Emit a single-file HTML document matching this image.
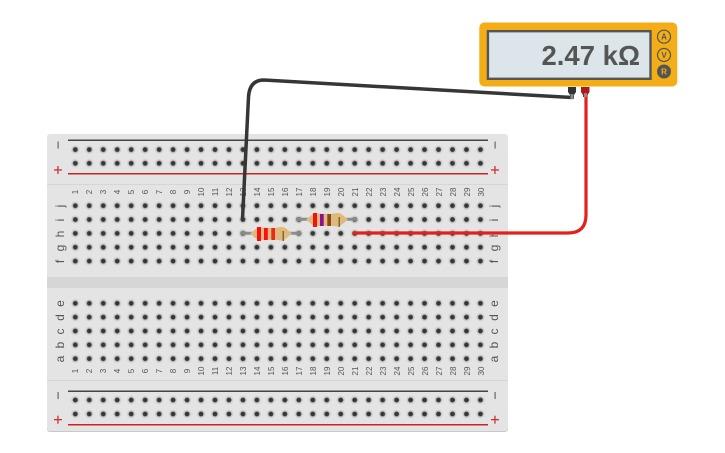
<!DOCTYPE html>
<html><head><meta charset="utf-8"><style>html,body{margin:0;padding:0;background:#fff;width:725px;height:453px;overflow:hidden}svg{display:block}text{font-family:"Liberation Sans",sans-serif}</style></head><body>
<svg width="725" height="453" viewBox="0 0 725 453" xmlns="http://www.w3.org/2000/svg">
<defs>
<radialGradient id="g"><stop offset="0" stop-color="#333"/><stop offset="0.45" stop-color="#3a3a3a"/><stop offset="0.62" stop-color="#c6c6c6"/><stop offset="0.85" stop-color="#d2d2d2"/><stop offset="1" stop-color="#e4e4e4"/></radialGradient>
<pattern id="r1" x="68.3" y="142.6" width="13.97" height="13.7" patternUnits="userSpaceOnUse"><circle cx="7" cy="7" r="4.5" fill="url(#g)"/></pattern>
<pattern id="r2" x="68.3" y="198.7" width="13.97" height="13.85" patternUnits="userSpaceOnUse"><circle cx="7" cy="7" r="4.5" fill="url(#g)"/></pattern>
<pattern id="r3" x="68.3" y="296.3" width="13.97" height="13.85" patternUnits="userSpaceOnUse"><circle cx="7" cy="7" r="4.5" fill="url(#g)"/></pattern>
<pattern id="r4" x="68.3" y="393" width="13.97" height="14" patternUnits="userSpaceOnUse"><circle cx="7" cy="7" r="4.5" fill="url(#g)"/></pattern>
</defs>

<!-- breadboard -->
<rect x="47" y="135" width="461" height="297" rx="3" fill="#c8c8c8"/>
<rect x="47" y="134" width="461" height="297" rx="3" fill="#e4e4e4"/>
<rect x="47" y="184" width="461" height="1" fill="#d6d6d6"/>
<rect x="47" y="277" width="461" height="11" fill="#d6d6d6"/>
<rect x="47" y="380" width="461" height="1" fill="#d6d6d6"/>

<rect x="68" y="139.5" width="420" height="1.5" fill="#444"/>
<rect x="68" y="173" width="420" height="1.5" fill="#c22"/>
<rect x="68" y="390.500" width="420" height="1.5" fill="#444"/>
<rect x="68" y="424" width="420" height="1.5" fill="#c22"/>

<rect x="68.3" y="142.6" width="419.1" height="27.4" fill="url(#r1)"/>
<rect x="68.3" y="198.7" width="419.1" height="69.3" fill="url(#r2)"/>
<rect x="68.3" y="296.3" width="419.1" height="69.3" fill="url(#r3)"/>
<rect x="68.3" y="393" width="419.1" height="28" fill="url(#r4)"/>

<!-- rail signs -->
<g fill="#666"><rect x="57.5" y="141.500" width="1.2" height="7"/><rect x="494.500" y="141.500" width="1.2" height="7"/><rect x="57.5" y="392" width="1.2" height="7"/><rect x="494.500" y="392" width="1.2" height="7"/></g>
<g fill="#c33"><rect x="54" y="169.300" width="8" height="1.3"/><rect x="57.300" y="166" width="1.3" height="8"/><rect x="491" y="169.300" width="8" height="1.3"/><rect x="494.300" y="166" width="1.3" height="8"/><rect x="54" y="419" width="8" height="1.3"/><rect x="57.300" y="415.700" width="1.3" height="8"/><rect x="491" y="419" width="8" height="1.3"/><rect x="494.300" y="415.700" width="1.3" height="8"/></g>

<!-- column numbers top -->
<g font-size="8" fill="#555" text-anchor="middle">
<text transform="translate(78,192) rotate(-90)">1</text><text transform="translate(92,192) rotate(-90)">2</text><text transform="translate(106,192) rotate(-90)">3</text><text transform="translate(120,192) rotate(-90)">4</text><text transform="translate(134,192) rotate(-90)">5</text><text transform="translate(148,192) rotate(-90)">6</text><text transform="translate(162,192) rotate(-90)">7</text><text transform="translate(176,192) rotate(-90)">8</text><text transform="translate(190,192) rotate(-90)">9</text><text transform="translate(204,192) rotate(-90)">10</text>
<text transform="translate(218,192) rotate(-90)">11</text><text transform="translate(232,192) rotate(-90)">12</text><text transform="translate(246,192) rotate(-90)">13</text><text transform="translate(260,192) rotate(-90)">14</text><text transform="translate(274,192) rotate(-90)">15</text><text transform="translate(288,192) rotate(-90)">16</text><text transform="translate(302,192) rotate(-90)">17</text><text transform="translate(316,192) rotate(-90)">18</text><text transform="translate(330,192) rotate(-90)">19</text><text transform="translate(344,192) rotate(-90)">20</text>
<text transform="translate(358,192) rotate(-90)">21</text><text transform="translate(372,192) rotate(-90)">22</text><text transform="translate(386,192) rotate(-90)">23</text><text transform="translate(400,192) rotate(-90)">24</text><text transform="translate(414,192) rotate(-90)">25</text><text transform="translate(428,192) rotate(-90)">26</text><text transform="translate(442,192) rotate(-90)">27</text><text transform="translate(456,192) rotate(-90)">28</text><text transform="translate(470,192) rotate(-90)">29</text><text transform="translate(484,192) rotate(-90)">30</text>
</g>
<!-- column numbers bottom -->
<g font-size="8" fill="#555" text-anchor="middle">
<text transform="translate(78,371) rotate(-90)">1</text><text transform="translate(92,371) rotate(-90)">2</text><text transform="translate(106,371) rotate(-90)">3</text><text transform="translate(120,371) rotate(-90)">4</text><text transform="translate(134,371) rotate(-90)">5</text><text transform="translate(148,371) rotate(-90)">6</text><text transform="translate(162,371) rotate(-90)">7</text><text transform="translate(176,371) rotate(-90)">8</text><text transform="translate(190,371) rotate(-90)">9</text><text transform="translate(204,371) rotate(-90)">10</text>
<text transform="translate(218,371) rotate(-90)">11</text><text transform="translate(232,371) rotate(-90)">12</text><text transform="translate(246,371) rotate(-90)">13</text><text transform="translate(260,371) rotate(-90)">14</text><text transform="translate(274,371) rotate(-90)">15</text><text transform="translate(288,371) rotate(-90)">16</text><text transform="translate(302,371) rotate(-90)">17</text><text transform="translate(316,371) rotate(-90)">18</text><text transform="translate(330,371) rotate(-90)">19</text><text transform="translate(344,371) rotate(-90)">20</text>
<text transform="translate(358,371) rotate(-90)">21</text><text transform="translate(372,371) rotate(-90)">22</text><text transform="translate(386,371) rotate(-90)">23</text><text transform="translate(400,371) rotate(-90)">24</text><text transform="translate(414,371) rotate(-90)">25</text><text transform="translate(428,371) rotate(-90)">26</text><text transform="translate(442,371) rotate(-90)">27</text><text transform="translate(456,371) rotate(-90)">28</text><text transform="translate(470,371) rotate(-90)">29</text><text transform="translate(484,371) rotate(-90)">30</text>
</g>
<!-- row letters -->
<g font-size="12" fill="#555" text-anchor="middle">
<text transform="translate(64,206) rotate(-90)">j</text><text transform="translate(64,220) rotate(-90)">i</text><text transform="translate(64,234) rotate(-90)">h</text><text transform="translate(64,248) rotate(-90)">g</text><text transform="translate(64,261.5) rotate(-90)">f</text>
<text transform="translate(64,303.5) rotate(-90)">e</text><text transform="translate(64,317.5) rotate(-90)">d</text><text transform="translate(64,331.5) rotate(-90)">c</text><text transform="translate(64,345) rotate(-90)">b</text><text transform="translate(64,359) rotate(-90)">a</text>
<text transform="translate(498,206) rotate(-90)">j</text><text transform="translate(498,220) rotate(-90)">i</text><text transform="translate(498,234) rotate(-90)">h</text><text transform="translate(498,248) rotate(-90)">g</text><text transform="translate(498,261.5) rotate(-90)">f</text>
<text transform="translate(498,303.5) rotate(-90)">e</text><text transform="translate(498,317.5) rotate(-90)">d</text><text transform="translate(498,331.5) rotate(-90)">c</text><text transform="translate(498,345) rotate(-90)">b</text><text transform="translate(498,359) rotate(-90)">a</text>
</g>

<!-- resistor 1 -->
<line x1="243" y1="233.3" x2="299" y2="233.3" stroke="#8c8c8c" stroke-width="3"/>
<circle cx="243" cy="233.3" r="2.2" fill="#888"/><circle cx="299" cy="233.3" r="2.2" fill="#888"/>
<path d="M250 233.5 L257 228 Q259 227 262 227.500 L274 228 L281 227 Q284 227 286 228.500 L292 233.500 L286 238.500 Q284 240.500 281 240.500 L274 239.500 L262 240 Q259 241 257 239.500 Z" fill="#dfb97f"/>
<rect x="257" y="227" width="4" height="14" fill="#f81010"/><rect x="264" y="228" width="3.800" height="12" fill="#f81010"/><rect x="271.300" y="228" width="3.700" height="12" fill="#ea2a18"/><rect x="282.500" y="227" width="1.500" height="14" fill="#7c6a2a"/><rect x="282.500" y="227" width="1.500" height="4" fill="#e8c93a"/>

<!-- resistor 2 -->
<line x1="298" y1="219.300" x2="355" y2="219.300" stroke="#8c8c8c" stroke-width="3"/>
<circle cx="298" cy="219.300" r="2.200" fill="#888"/><circle cx="355" cy="219.300" r="2.200" fill="#888"/>
<path d="M306 219.500 L313 214 Q315 213 318 213.500 L330 214 L337 213 Q340 213 342 214.500 L348 219.500 L342 224.500 Q340 226.500 337 226.500 L330 225.500 L318 226 Q315 227 313 225.500 Z" fill="#dfb97f"/>
<rect x="313" y="213" width="4" height="14" fill="#f81010"/><rect x="320" y="214" width="3.700" height="12" fill="#8e1090"/><rect x="327.300" y="214" width="3.700" height="12" fill="#8a4a14"/><rect x="338.500" y="213" width="1.500" height="14" fill="#7c6a2a"/><rect x="338.500" y="213" width="1.500" height="4" fill="#e8c93a"/>

<!-- wires -->
<path d="M242.500 219 L248.500 97 Q249.500 80 264 80 L572 97.500" fill="none" stroke="#363636" stroke-width="3.500" stroke-linejoin="round" stroke-linecap="round"/>
<path d="M354 233 L568 233 Q586 233 586 215 L586 92" fill="none" stroke="#e4201f" stroke-width="3.200" stroke-linecap="round"/>

<!-- multimeter -->
<rect x="479.300" y="22.500" width="198" height="64" rx="5" fill="#f3ad17"/>
<rect x="487.900" y="31.200" width="162.600" height="47.600" fill="#dbe5ea" stroke="#555" stroke-width="2.400"/>
<text x="640" y="65" font-size="27.500" font-weight="bold" fill="#555" text-anchor="end">2.47 kΩ</text>
<circle cx="664" cy="36.700" r="6.500" fill="none" stroke="#555" stroke-width="1.200"/><text x="664" y="39.700" font-size="8" font-weight="bold" fill="#555" text-anchor="middle">A</text>
<circle cx="664" cy="55" r="6.500" fill="none" stroke="#555" stroke-width="1.200"/><text x="664" y="58" font-size="8" font-weight="bold" fill="#555" text-anchor="middle">V</text>
<circle cx="664" cy="71.500" r="7" fill="#555"/><text x="664" y="74.500" font-size="8" font-weight="bold" fill="#f3ad17" text-anchor="middle">R</text>

<!-- probes -->
<path d="M568 87 H576 V92 L574 95 V99 H570 V95 L568 92 Z" fill="#333"/><rect x="570.500" y="94" width="3" height="5" fill="#888"/>
<path d="M581 87 H589.500 V92 L587.500 95 V97 H583 V95 L581 92 Z" fill="#b01818"/><rect x="584" y="93" width="3" height="4" fill="#888"/>
</svg>
</body></html>
